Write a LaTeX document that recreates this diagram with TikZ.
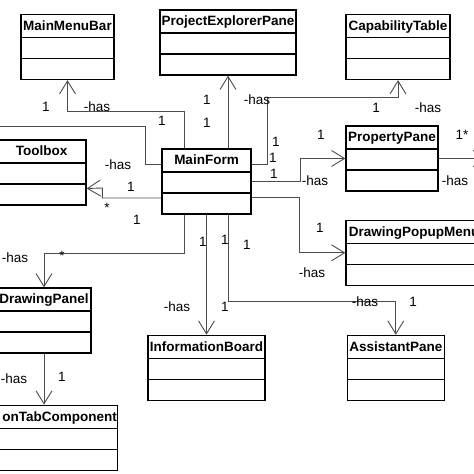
\documentclass[tikz,border=0pt]{standalone}
\usepackage{fontspec}
\setmainfont{Liberation Sans}
\usetikzlibrary{arrows.meta,positioning}

\begin{document}
\begin{tikzpicture}[x=1pt,y=-1pt,>={Straight Barb[length=13pt,width=16pt]},
font=\fontsize{13.5}{16}\selectfont,
classbox/.style={draw=black, line width=1.3pt, minimum height=65pt, inner sep=0pt},
classname/.style={anchor=north, inner sep=0pt, yshift=-6.5pt, font=\fontsize{13.5}{16}\selectfont\bfseries},
has/.style={->, line width=0.9pt, draw=black!70},
mult/.style={inner sep=0pt},
]
\useasboundingbox (0,0) rectangle (474,474);
\clip (0,0) rectangle (474,474);

\node[classbox, minimum width=89pt, label={[classname]north:MainForm}] (mainform) at (206.5,181.5) {};
\node[classbox, minimum width=93pt, label={[classname]north:MainMenuBar}] (menubar) at (67.5,47) {};
\node[classbox, minimum width=136pt, label={[classname]north:ProjectExplorerPane}] (explorer) at (228,42.5) {};
\node[classbox, minimum width=104pt, label={[classname]north:CapabilityTable}] (captable) at (398,47) {};
\node[classbox, minimum width=89pt, label={[classname]north:Toolbox}] (toolbox) at (41.5,172.5) {};
\node[classbox, minimum width=92pt, label={[classname]north:PropertyPane}] (proppane) at (392,158.5) {};
\node[classbox, minimum width=136pt, label={[classname]north:DrawingPopupMenu}] (popup)[below=28pt of proppane.south west, anchor=north west] {};
\node[classbox, minimum width=94pt, label={[classname]north:DrawingPanel}] (drawpanel) at (44,320.5) {};
\node[classbox, minimum width=147pt, label={[classname, anchor=north east, xshift=-1pt]north east:onTabComponent}] (tabcomp)[below=51pt of drawpanel] {};
\node[classbox, minimum width=117pt, label={[classname]north:InformationBoard}] (infoboard)[below=120pt of mainform] {};
\node[classbox, minimum width=97pt, label={[classname]north:AssistantPane}] (assistant)[right=81pt of infoboard] {};

\foreach \c in {mainform,menubar,explorer,captable,toolbox,proppane,popup,drawpanel,tabcomp,infoboard,assistant}{
  \draw[line width=1.3pt] ([yshift=-23.5pt]\c.north west) -- ([yshift=-23.5pt]\c.north east);
  \draw[line width=1.3pt] ([yshift=-44.5pt]\c.north west) -- ([yshift=-44.5pt]\c.north east);
}

\coordinate (offright) at (487,158.5);
\coordinate (offleft) at (-5,126);

\draw[has] ([xshift=-22.5pt]mainform.north) -- ++(0,-37) -| (menubar.south);
\draw[has] (mainform.north -| explorer.south) -- (explorer.south);
\draw[has] ([yshift=17.5pt]mainform.east) -- ++(16,0) -- ++(0,-67) -| (captable.south);
\draw[has] (mainform.east) -- ++(49,0) |- (proppane.west);
\draw[has] ([yshift=-15.5pt]mainform.east) -- ++(48,0) |- (popup.west);
\draw[has] (proppane.east) -- (offright);
\draw[has] ([yshift=-16.5pt]mainform.west) -| ++(-59,-10) -- ([yshift=-16pt]toolbox.east);
\draw[has, -] ([yshift=17.5pt]mainform.west) -- ++(-16,0) |- (offleft);
\draw[has] ([xshift=-22.5pt]mainform.south) -- ++(0,39) -| (drawpanel.north);
\draw[has] (mainform.south) -- (infoboard.north);
\draw[has] ([xshift=22pt]mainform.south) -- ++(0,87) -| (assistant.north);
\draw[has] (drawpanel.south) -- (tabcomp.north);

% Label
\node[mult] (mbone) at (46,107) {1};
\node[mult] (mbhas) at (97,107) {-has};
\node[mult] (mbtwo) at (162,121) {1};
\node[mult] (exone) at (207,100) {1};
\node[mult] (extwo) at (207,123) {1};
\node[mult] (exhas) at (257,100) {-has};
\node[mult] (ctone) at (376,108) {1};
\node[mult] (cthas) at (428,108) {-has};
\node[mult] (cttwo) at (276,142) {1};
\node[mult] (ctthree) at (273,158) {1};
\node[mult] (ppone) at (321,135) {1};
\node[mult] (pphas) at (315,181) {-has};
\node[mult] (pptwo) at (274,174) {1};
\node[mult] (rtone) at (462,135) {1*};
\node[mult] (rthas) at (455,181) {-has};
\node[mult] (puone) at (320,228) {1};
\node[mult] (puhas) at (312,273) {-has};
\node[mult] (putwo) at (247,245) {1};
\node[mult] (tbhas) at (118,165) {-has};
\node[mult] (tbone) at (131,187) {1};
\node[mult] (tbstar) at (107,208) {*};
\node[mult] (tbtwo) at (137,220) {1};
\node[mult] (dphas) at (15,258) {-has};
\node[mult] (dpstar) at (62,256) {*};
\node[mult] (ibone) at (203,242) {1};
\node[mult] (ibhas) at (177,307) {-has};
\node[mult] (ibtwo) at (225,307) {1};
\node[mult] (asone) at (225,240) {1};
\node[mult] (ashas) at (365,302) {-has};
\node[mult] (astwo) at (413,302) {1};
\node[mult] (tchas) at (14,379) {-has};
\node[mult] (tcone) at (62,377) {1};

\end{tikzpicture}
\end{document}
